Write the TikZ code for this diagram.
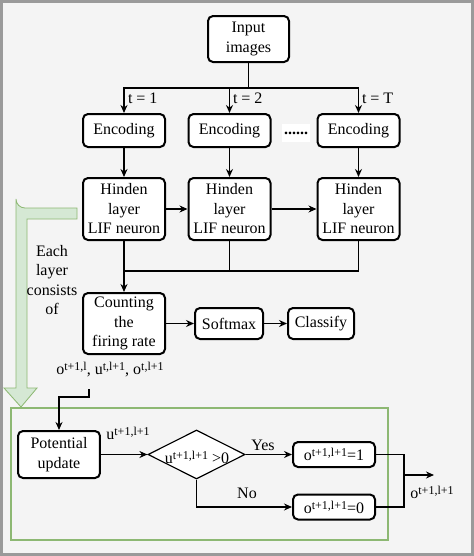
\documentclass[tikz,border=0pt]{standalone}
\usepackage{fontspec}
\setmainfont{Liberation Serif}
\usepackage{xcolor}
\usetikzlibrary{positioning, arrows, arrows.meta, shapes.geometric}
\definecolor{bggray}{HTML}{F4F4F4}
\definecolor{framegray}{HTML}{9A9A9A}
\definecolor{leafgreen}{HTML}{D5E8D4}
\definecolor{edgegreen}{HTML}{8DB873}
\newcommand{\hi}[1]{\raisebox{0.55ex}{\fontsize{7.2}{8}\selectfont #1}}
\tikzset{
    >={Stealth[length=4.8pt, width=4.2pt]}, % filled arrow heads
    every node/.style={font=\fontsize{9.6}{11.7}\selectfont},
    block/.style={draw, rounded corners=3pt, line width=1.2pt, fill=white, align=center, inner sep=1pt},
    wideblock/.style={block, minimum width=49.2pt},
    decision/.style={draw, diamond, line width=0.7pt, fill=white, inner sep=0pt, minimum width=58.2pt, minimum height=29.4pt},
}
\tikzstyle{arrow} = [thick, ->]
\tikzstyle{line} = [thick]

\begin{document}
\begin{tikzpicture}[x=0.6pt, y=-0.6pt]
    % background and frame
    \fill[bggray] (0,0) rectangle (474,556);
    \draw[framegray, line width=1.8pt] (1.5,1.5) rectangle (472.5,554.5);
    \useasboundingbox (0,0) rectangle (474,556);

    % main flow
    \node[block, minimum width=48.6pt, minimum height=27.6pt] (input) at (248.5,39) {Input\\images};
    \node[wideblock, minimum height=19.8pt] (enc1) at (124,130.5) {Encoding};
    \node[wideblock, minimum height=19.8pt] (enc2) at (229.5,130.5) {Encoding};
    \node[wideblock, minimum height=19.8pt] (enc3) at (358.5,130.5) {Encoding};
    \node[fill=white, inner sep=0pt, minimum width=16.8pt, minimum height=10.8pt] (dots) at (296,133) {\textbf{......}};
    \node[wideblock, minimum height=37.2pt] (hid1) at (124,209) {Hinden\\layer\\LIF neuron};
    \node[wideblock, minimum height=37.2pt] (hid2) at (229.5,209) {Hinden\\layer\\LIF neuron};
    \node[wideblock, minimum height=37.2pt] (hid3) at (358.5,209) {Hinden\\layer\\LIF neuron};
    \node[wideblock, minimum height=36.6pt] (count) at (124,323.5) {Counting\\the\\firing rate};
    \node[block, minimum width=40.8pt, minimum height=18.6pt] (soft) at (229,323.5) {Softmax};
    \node[block, minimum width=39.6pt, minimum height=18.6pt] (class) at (321,323.5) {Classify};

    \coordinate (fork) at (248.5,88);
    \draw[line] (input.south) -- (fork);
    \draw[arrow] (fork) -| (enc1.north);
    \draw[arrow] (fork) -| (enc3.north);
    \draw[arrow] (enc2.north |- fork) -- (enc2.north);
    \node[anchor=west, inner sep=1pt] (t1) at (126,98) {t = 1};
    \node[anchor=west, inner sep=1pt] (t2) at (231,98) {t = 2};
    \node[anchor=west, inner sep=1pt] (tT) at (360,98) {t = T};

    \draw[arrow] (enc1) -- (hid1);
    \draw[arrow] (enc2) -- (hid2);
    \draw[arrow] (enc3) -- (hid3);
    \draw[arrow] (hid1) -- (hid2);
    \draw[arrow] (hid2) -- (hid3);

    \coordinate (merge) at (124,271);
    \draw[line] (hid3.south) |- (merge);
    \draw[line] (hid2.south) -- (hid2.south |- merge);
    \draw[arrow] (hid1.south) -- (count.north);
    \draw[arrow] (count) -- (soft);
    \draw[arrow] (soft) -- (class);

    % green hint arrow
    \filldraw[fill=leafgreen, draw=edgegreen, line width=0.5pt]
        (77,208) -- (25,208) arc[start angle=90, end angle=180, radius=9] -- (16,388) -- (4,388)
        -- (21,407) -- (37,388) -- (27,388) -- (27,219) -- (77,219) -- cycle;
    \node[align=center] (note) at (52,280) {Each\\layer\\consists\\of};

    % neuron detail
    \draw[edgegreen, line width=1.2pt] (11,408) rectangle (388,540);
    \node (state) at (110,370) {o\hi{t+1,l}, u\hi{t,l+1}, o\hi{t,l+1}};
    \node[wideblock, minimum height=28.2pt] (pot) at (59,454.5) {Potential\\update};
    \node[decision] (check) at (196.5,454.5) {};
    \node[inner sep=0pt] (cond) at (197,457) {u\hi{t+1,l+1} >0};
    \node[wideblock, minimum height=15pt] (one) at (334,454.5) {o\hi{t+1,l+1}=1};
    \node[wideblock, minimum height=15pt] (zero) at (334,507) {o\hi{t+1,l+1}=0};

    \coordinate (tap) at (89,389);
    \draw[arrow] (tap) -- ++(0,8) -| (pot.north);
    \draw[arrow] (pot) -- (check);
    \node (ulabel) at (128,433) {u\hi{t+1,l+1}};
    \draw[arrow] (check.east) -- (one.west);
    \node (yes) at (263,445) {Yes};
    \draw[arrow] (check.south) |- (zero.west);
    \node (no) at (247,493) {No};

    \coordinate (rtop) at (404,454.5);
    \coordinate (rbot) at (404,507);
    \coordinate (outroot) at (404,475);
    \coordinate (outtip) at (434,475);
    \draw[line] (one.east) -- (rtop) -- (rbot) -- (zero.east);
    \draw[arrow] (outroot) -- (outtip);
    \node (out) at (432,492) {o\hi{t+1,l+1}};
\end{tikzpicture}
\end{document}
